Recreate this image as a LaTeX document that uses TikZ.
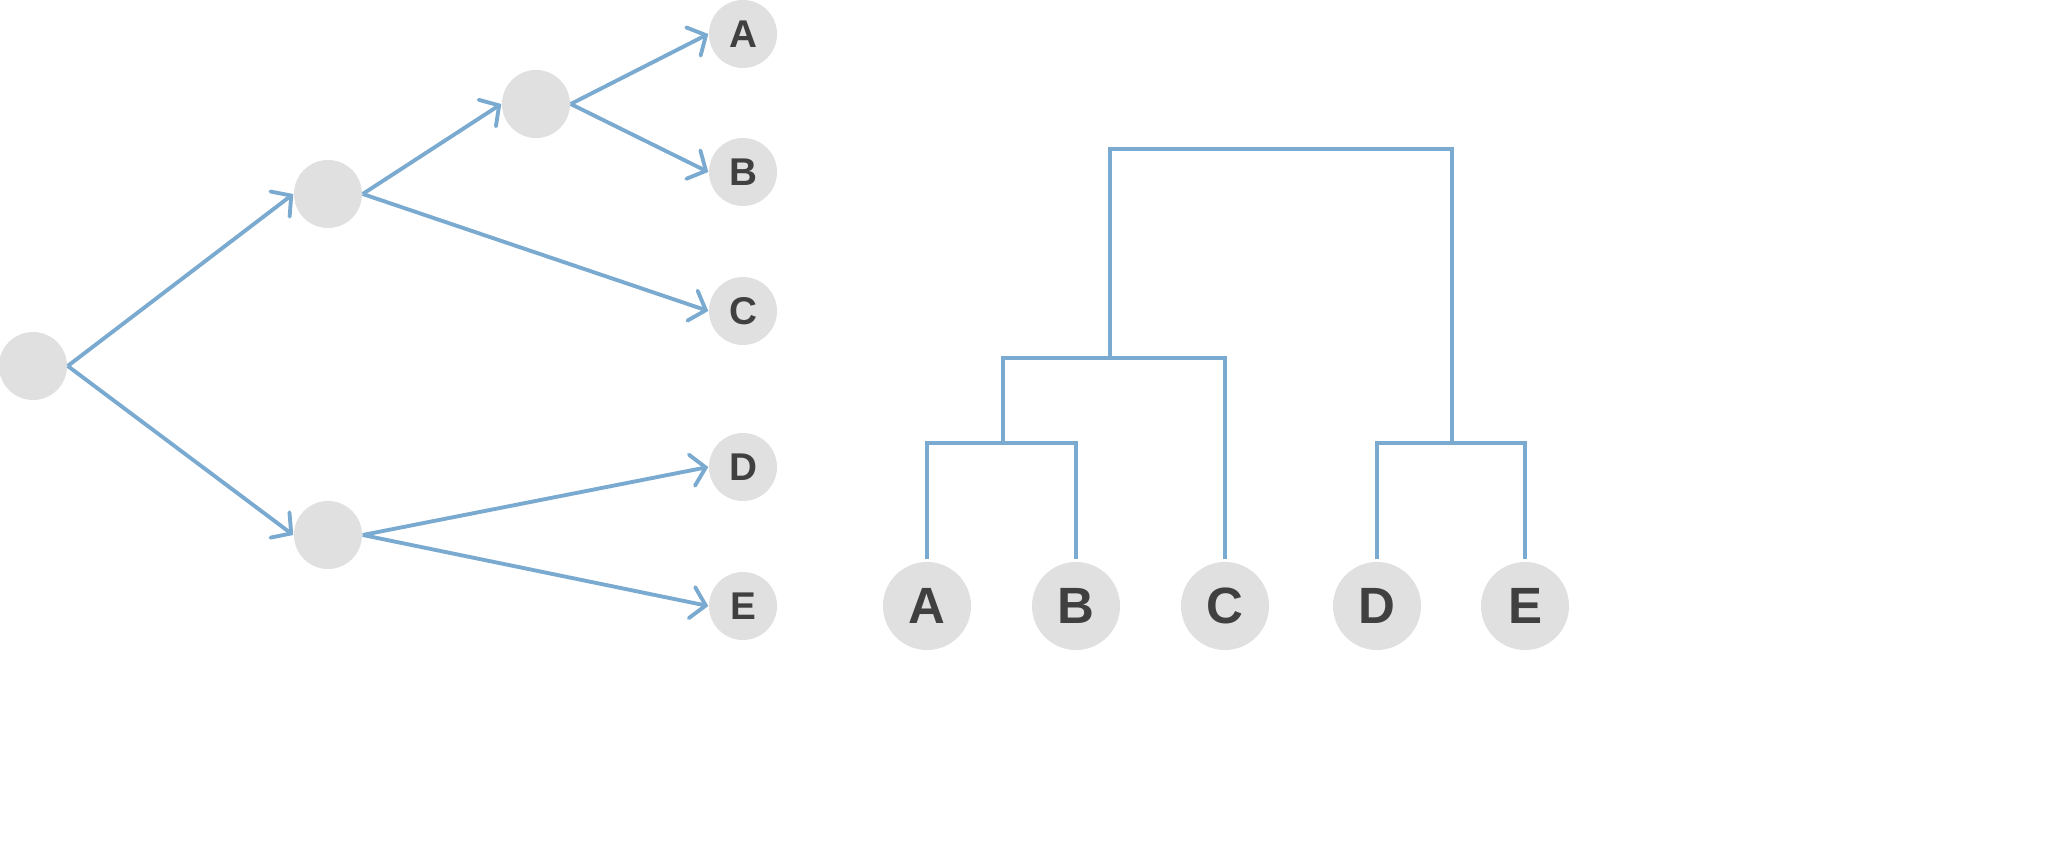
\documentclass[tikz,border=0pt]{standalone}
\usepackage{fontspec}
\setmainfont{Liberation Sans}
\usetikzlibrary{arrows.meta}
\definecolor{ln}{HTML}{7AAAD0}
\definecolor{cf}{HTML}{E0E0E0}
\definecolor{tx}{HTML}{404040}
\begin{document}
\begin{tikzpicture}[x=0.01cm,y=-0.01cm,
  sm/.style={circle,fill=cf,minimum size=0.68cm,inner sep=0pt,text=tx,font=\fontsize{11}{11}\selectfont\bfseries},
  bg/.style={circle,fill=cf,minimum size=0.88cm,inner sep=0pt,text=tx,font=\fontsize{14.5}{14.5}\selectfont\bfseries},
  ar/.style={draw=ln,line width=1.1pt,-{Straight Barb[length=4pt,width=9pt,line cap=round]}},
  dl/.style={draw=ln,line width=1.1pt}]
\useasboundingbox (0,0) rectangle (2048,849);
\node[sm] (r) at (33,366) {};
\node[sm] (u) at (328,194) {};
\node[sm] (l) at (328,535) {};
\node[sm] (m) at (536,104) {};
\node[sm] (A) at (743,34) {A};
\node[sm] (B) at (743,172) {B};
\node[sm] (C) at (743,311) {C};
\node[sm] (D) at (743,467) {D};
\node[sm] (E) at (743,606) {E};
\draw[ar] (r.east) -- (u.west);
\draw[ar] (r.east) -- (l.west);
\draw[ar] (u.east) -- (m.west);
\draw[ar] (u.east) -- (C.west);
\draw[ar] (m.east) -- (A.west);
\draw[ar] (m.east) -- (B.west);
\draw[ar] (l.east) -- (D.west);
\draw[ar] (l.east) -- (E.west);
\node[bg] (a2) at (927,606) {A};
\node[bg] (b2) at (1076,606) {B};
\node[bg] (c2) at (1225,606) {C};
\node[bg] (d2) at (1377,606) {D};
\node[bg] (e2) at (1525,606) {E};
\draw[dl] ([yshift=0.02cm]a2.north) |- (1003,443) coordinate (ab);
\draw[dl] ([yshift=0.02cm]b2.north) |- (ab);
\draw[dl] (ab) |- (1110,358) coordinate (abc);
\draw[dl] ([yshift=0.02cm]c2.north) |- (abc);
\draw[dl] ([yshift=0.02cm]d2.north) |- (1452,443) coordinate (de);
\draw[dl] ([yshift=0.02cm]e2.north) |- (de);
\draw[dl] (abc) |- (1280,149) -| (de);
\end{tikzpicture}
\end{document}
